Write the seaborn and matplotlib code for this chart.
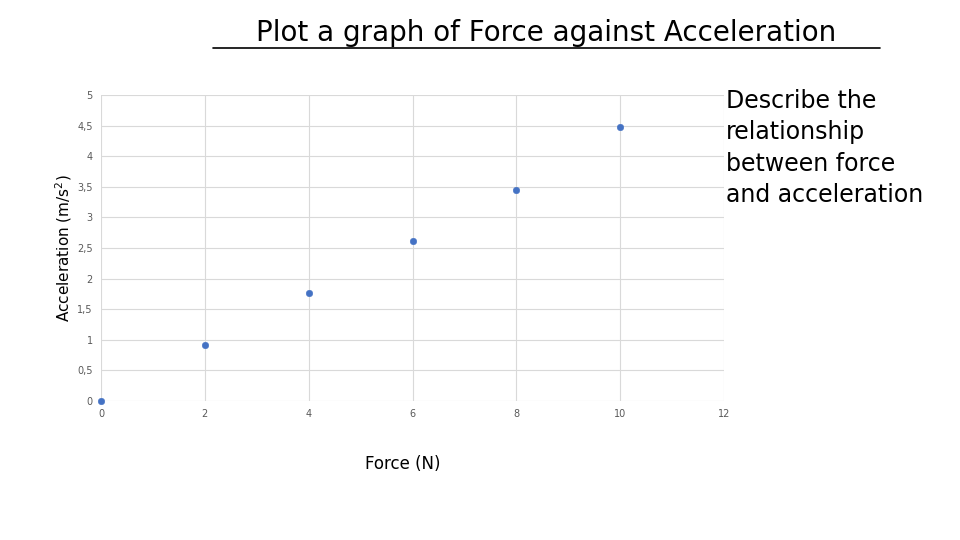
import matplotlib
matplotlib.use("Agg")
import matplotlib.pyplot as plt
import seaborn as sns
from matplotlib.ticker import FuncFormatter

sns.set_style("whitegrid")
plt.rcParams["font.family"] = ["DejaVu Sans"]

force = [0, 2, 4, 6, 8, 10]
acceleration = [0.0, 0.92, 1.77, 2.62, 3.45, 4.48]
x_ticks = [0, 2, 4, 6, 8, 10, 12]
y_ticks = [0, 0.5, 1, 1.5, 2, 2.5, 3, 3.5, 4, 4.5, 5]

fig = plt.figure(figsize=(9.6, 5.4), dpi=100)
ax = fig.add_axes([101 / 960, 1 - 401 / 540, 623 / 960, 306 / 540])

sns.scatterplot(x=force, y=acceleration, ax=ax, color="#4472c4", s=22,
                edgecolor="#4472c4", clip_on=False, zorder=3)

ax.set_xlim(0, 12)
ax.set_ylim(0, 5)
ax.set_xticks(x_ticks)
ax.set_yticks(y_ticks)
fmt = FuncFormatter(lambda v, _: f"{v:g}".replace(".", ","))
ax.xaxis.set_major_formatter(fmt)
ax.yaxis.set_major_formatter(fmt)
ax.tick_params(labelsize=7, colors="#595959", pad=6, length=0)
ax.grid(True, color="#d9d9d9", linewidth=0.8)
for s in ax.spines.values():
    s.set_visible(False)

ax.set_xlabel("")
fig.text(403 / 960, 1 - 464 / 540, "Force (N)", fontsize=12, ha="center",
         va="center", color="black")
fig.text(64 / 960, 1 - 248 / 540, "Acceleration (m/s$^2$)", fontsize=11,
         rotation=90, ha="center", va="center", color="black")

fig.text(546 / 960, 1 - 33 / 540, "Plot a graph of Force against Acceleration",
         fontsize=20, ha="center", va="center", color="black")
fig.add_artist(plt.Line2D([213 / 960, 880 / 960], [1 - 48 / 540, 1 - 48 / 540],
                          color="black", linewidth=1.2))

fig.text(726 / 960, 1 - 148 / 540,
         "Describe the\nrelationship\nbetween force\nand acceleration",
         fontsize=17, ha="left", va="center", linespacing=1.4, color="black")

fig.savefig("out.png", dpi=100)
